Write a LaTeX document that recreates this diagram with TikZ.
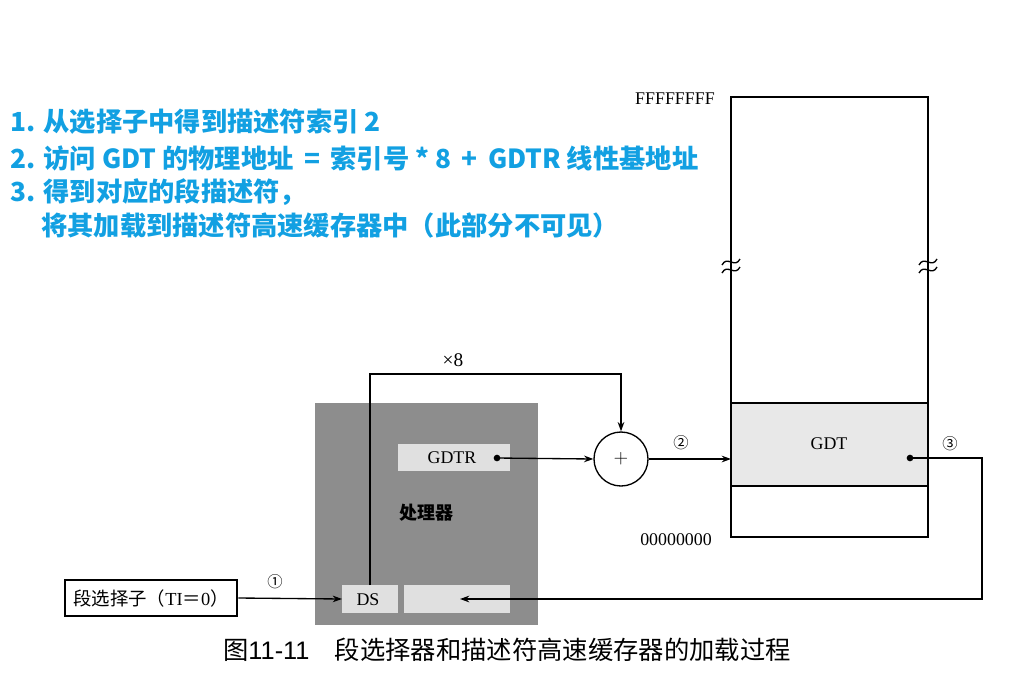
\documentclass[tikz,border=0pt]{standalone}
\usepackage{fontspec}
\setmainfont{Liberation Serif}
\newfontfamily\cjk{Noto Sans CJK SC}
\newfontfamily\sansf{Liberation Sans}
\usetikzlibrary{arrows.meta}
\definecolor{stepblue}{RGB}{18,160,226}
\definecolor{procgray}{RGB}{141,141,141}
\definecolor{reggray}{RGB}{224,224,224}
\definecolor{gdtfill}{RGB}{232,232,232}
\tikzset{
  note/.style={anchor=west,inner sep=0pt,text=stepblue,font=\cjk\bfseries\fontsize{19.7}{22}\selectfont},
  reg/.style={fill=reggray,draw=none,inner sep=0pt},
  lbl/.style={inner sep=0pt,font=\fontsize{13.4}{15}\selectfont},
  wire/.style={line width=1pt,draw=black},
  arr/.style={wire,-{Stealth[length=7pt,width=5pt]}},
  dotc/.style={circle,fill=black,inner sep=0pt,minimum size=5pt},
  circ/.style={inner sep=0pt,font=\cjk\fontsize{11.5}{12}\selectfont},
  box/.style args={#1x#2}{rectangle,inner sep=0pt,minimum width=#1*0.75pt,minimum height=#2*0.75pt},
}
\begin{document}
\begin{tikzpicture}[x=0.75pt,y=-0.75pt]
\useasboundingbox (0,0) rectangle (1025,679);
% notes
\node[note] (n1) at (10,122) {1. 从选择子中得到描述符索引 2};
\node[note] (n2) at (10,158) {2. 访问\ GDT\ 的物理地址\,\ =\ \,索引号\ *\ 8\ \,+\ \,GDTR\ 线性基地址};
\node[note] (n3) at (10,192) {3. 得到对应的段描述符，};
\node[note] (n4) at (41,226) {将其加载到描述符高速缓存器中（此部分不可见）};
% memory
\node[box=197x440,draw=black,line width=1pt] (mem) at (829.5,317) {};
\node[box=197x83,draw=black,line width=1pt,fill=gdtfill] (gdt) at (829.5,444.5) {};
\node[lbl] (gdtl) at (829,444) {GDT};
\foreach \xx in {731,928}{
  \foreach \yy in {262,270}{
    \draw[line width=1pt] (\xx-9,\yy+3) .. controls (\xx-4,\yy-7) and (\xx+4,\yy+7) .. (\xx+9,\yy-3);
  }
}
\node[lbl,anchor=east] (ff) at (715,99) {FFFFFFFF};
\node[lbl,anchor=east] (zz) at (712,540) {00000000};
% processor
\node[box=223x222,fill=procgray] (proc) at (426.5,514) {};
\node[box=112x27,reg] (gdtrbox) at (454,457.5) {};
\node[lbl] (gdtr) at (452,458) {GDTR};
\coordinate (gdtrdot) at (497,458);
\node[inner sep=0pt,font=\cjk\bfseries\fontsize{13.5}{15}\selectfont] (cpu) at (426,513) {处理器};
\node[box=56x28,reg] (dsbox) at (370,599) {};
\node[lbl] (ds) at (368,600) {DS};
\coordinate (dsw) at (342,599);
\coordinate (dstop) at (370,585);
\node[box=106x28,reg] (cachebox) at (457,599) {};
\coordinate (cache) at (460,599);
% adder
\node[circle,draw=black,line width=1pt,minimum size=54*0.75pt,inner sep=0pt] (add) at (621,459) {};
\node[inner sep=0pt,font=\fontsize{15}{15}\selectfont] (plus) at (621,459) {$+$};
% selector
\node[box=172x36,draw=black,line width=2pt,
      font=\fontsize{13.8}{15}\selectfont] (sel) at (151,598) {{\cjk 段选择子（}TI{\cjk ＝}0{\cjk ）}};
% wires
\coordinate (c8a) at (370,374);
\coordinate (c8b) at (621,374);
\draw[arr] (dstop) -- (c8a) -- (c8b) -- (add.north);
\node[lbl,font=\fontsize{14.5}{15}\selectfont] (x8) at (453,360) {×8};
\draw[arr] (gdtrdot) -- (add.west);
\node[dotc] at (gdtrdot) {};
\coordinate (gdtw) at (731,459);
\draw[arr] (add.east) -- (gdtw);
\node[circ] (l2) at (681,443) {②};
\coordinate (gdtdot) at (910,458);
\coordinate (r1) at (982,458);
\coordinate (r2) at (982,599);
\draw[arr] (gdtdot) -- (r1) -- (r2) -- (cache);
\node[dotc] at (gdtdot) {};
\node[circ] (l3) at (950,444) {③};
\draw[arr] (sel.east) -- (dsw);
\node[circ] (l1) at (275,582) {①};
% caption
\node[inner sep=0pt,font=\fontsize{19}{22}\selectfont] (cap) at (507,650) {{\cjk 图}{\sansf 11-11}\hspace{1em}{\cjk 段选择器和描述符高速缓存器的加载过程}};
\end{tikzpicture}
\end{document}
